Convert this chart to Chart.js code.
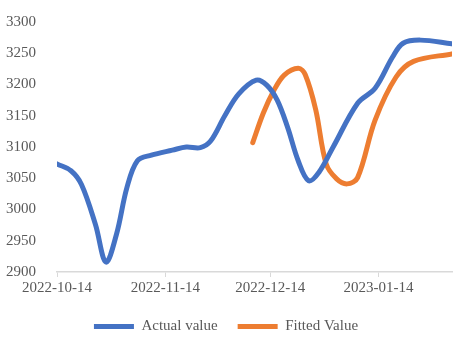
<!DOCTYPE html>
<html>
<head>
<meta charset="utf-8">
<script src="https://cdn.jsdelivr.net/npm/chart.js@4/dist/chart.umd.min.js"></script>
<style>
html,body{margin:0;padding:0;background:#fff;}
#wrap{width:474px;height:353px;}
</style>
</head>
<body>
<div id="wrap"><canvas id="c" width="474" height="353"></canvas></div>
<script>
// Day offsets from 2022-10-14
const actualDays   = [0, 4, 7, 11, 14, 17, 20, 23, 27, 33, 37, 41, 44, 48, 52, 57, 60, 63, 66, 69, 72, 75, 79, 86, 91, 96, 99, 104, 113];
const actualValues = [3073, 3062, 3040, 2976, 2916, 2960, 3035, 3078, 3087, 3095, 3100, 3099, 3110, 3150, 3185, 3207, 3199, 3175, 3131, 3078, 3046, 3060, 3100, 3170, 3194, 3244, 3266, 3271, 3265];
const fittedDays   = [56, 59, 62, 65, 69, 71, 74, 77, 80, 83, 86, 91, 97, 102, 113];
const fittedValues = [3107, 3154, 3190, 3215, 3226, 3216, 3160, 3073, 3049, 3041, 3051, 3143, 3212, 3237, 3249];
const tickDays   = [0, 31, 61, 92];
const tickLabels = ["2022-10-14", "2022-11-14", "2022-12-14", "2023-01-14"];
const seriesNames = ["Actual value", "Fitted Value"];
const yMin = 2900, yMax = 3300, yStep = 50;
const xMax = 113;

const blue = '#4472C4', orange = '#ED7D31';
const font = {family: "'Liberation Serif', 'DejaVu Serif', serif", size: 15};

new Chart(document.getElementById('c'), {
  type: 'line',
  data: {
    datasets: [
      {label: seriesNames[0], data: actualDays.map((d,i)=>({x:d, y:actualValues[i]})),
       borderColor: blue, backgroundColor: blue, borderWidth: 5, pointRadius: 0,
       tension: 0.35, borderCapStyle: 'round', borderJoinStyle: 'round'},
      {label: seriesNames[1], data: fittedDays.map((d,i)=>({x:d, y:fittedValues[i]})),
       borderColor: orange, backgroundColor: orange, borderWidth: 5, pointRadius: 0,
       tension: 0.35, borderCapStyle: 'round', borderJoinStyle: 'round'}
    ]
  },
  options: {
    responsive: false,
    animation: false,
    layout: {padding: {left: 0, right: 22, top: 14, bottom: 9}},
    plugins: {
      tooltip: {enabled: false},
      legend: {
        position: 'bottom',
        labels: {
          font: font, color: '#595959', boxWidth: 40, boxHeight: 5, padding: 20,
          generateLabels: (chart) => chart.data.datasets.map((ds, i) => ({
            text: ds.label, fillStyle: ds.borderColor, strokeStyle: ds.borderColor,
            lineWidth: 0, hidden: false, datasetIndex: i, fontColor: '#595959'
          }))
        }
      }
    },
    scales: {
      x: {
        type: 'linear', min: 0, max: xMax,
        afterBuildTicks: (s) => { s.ticks = tickDays.map(v => ({value: v})); },
        ticks: {
          font: font, color: '#595959', maxRotation: 0, autoSkip: false, padding: 2,
          callback: (v) => { const i = tickDays.indexOf(v); return i >= 0 ? tickLabels[i] : ''; }
        },
        grid: {drawOnChartArea: false, drawTicks: true, tickLength: 5, color: '#d9d9d9'},
        border: {display: true, color: '#d9d9d9', width: 1.5}
      },
      y: {
        min: yMin, max: yMax,
        ticks: {stepSize: yStep, font: font, color: '#595959', padding: 13, callback: (v) => String(v)},
        grid: {display: false},
        border: {display: false},
        afterFit: (s) => { s.width = 57; }
      }
    }
  }
});
</script>
</body>
</html>
